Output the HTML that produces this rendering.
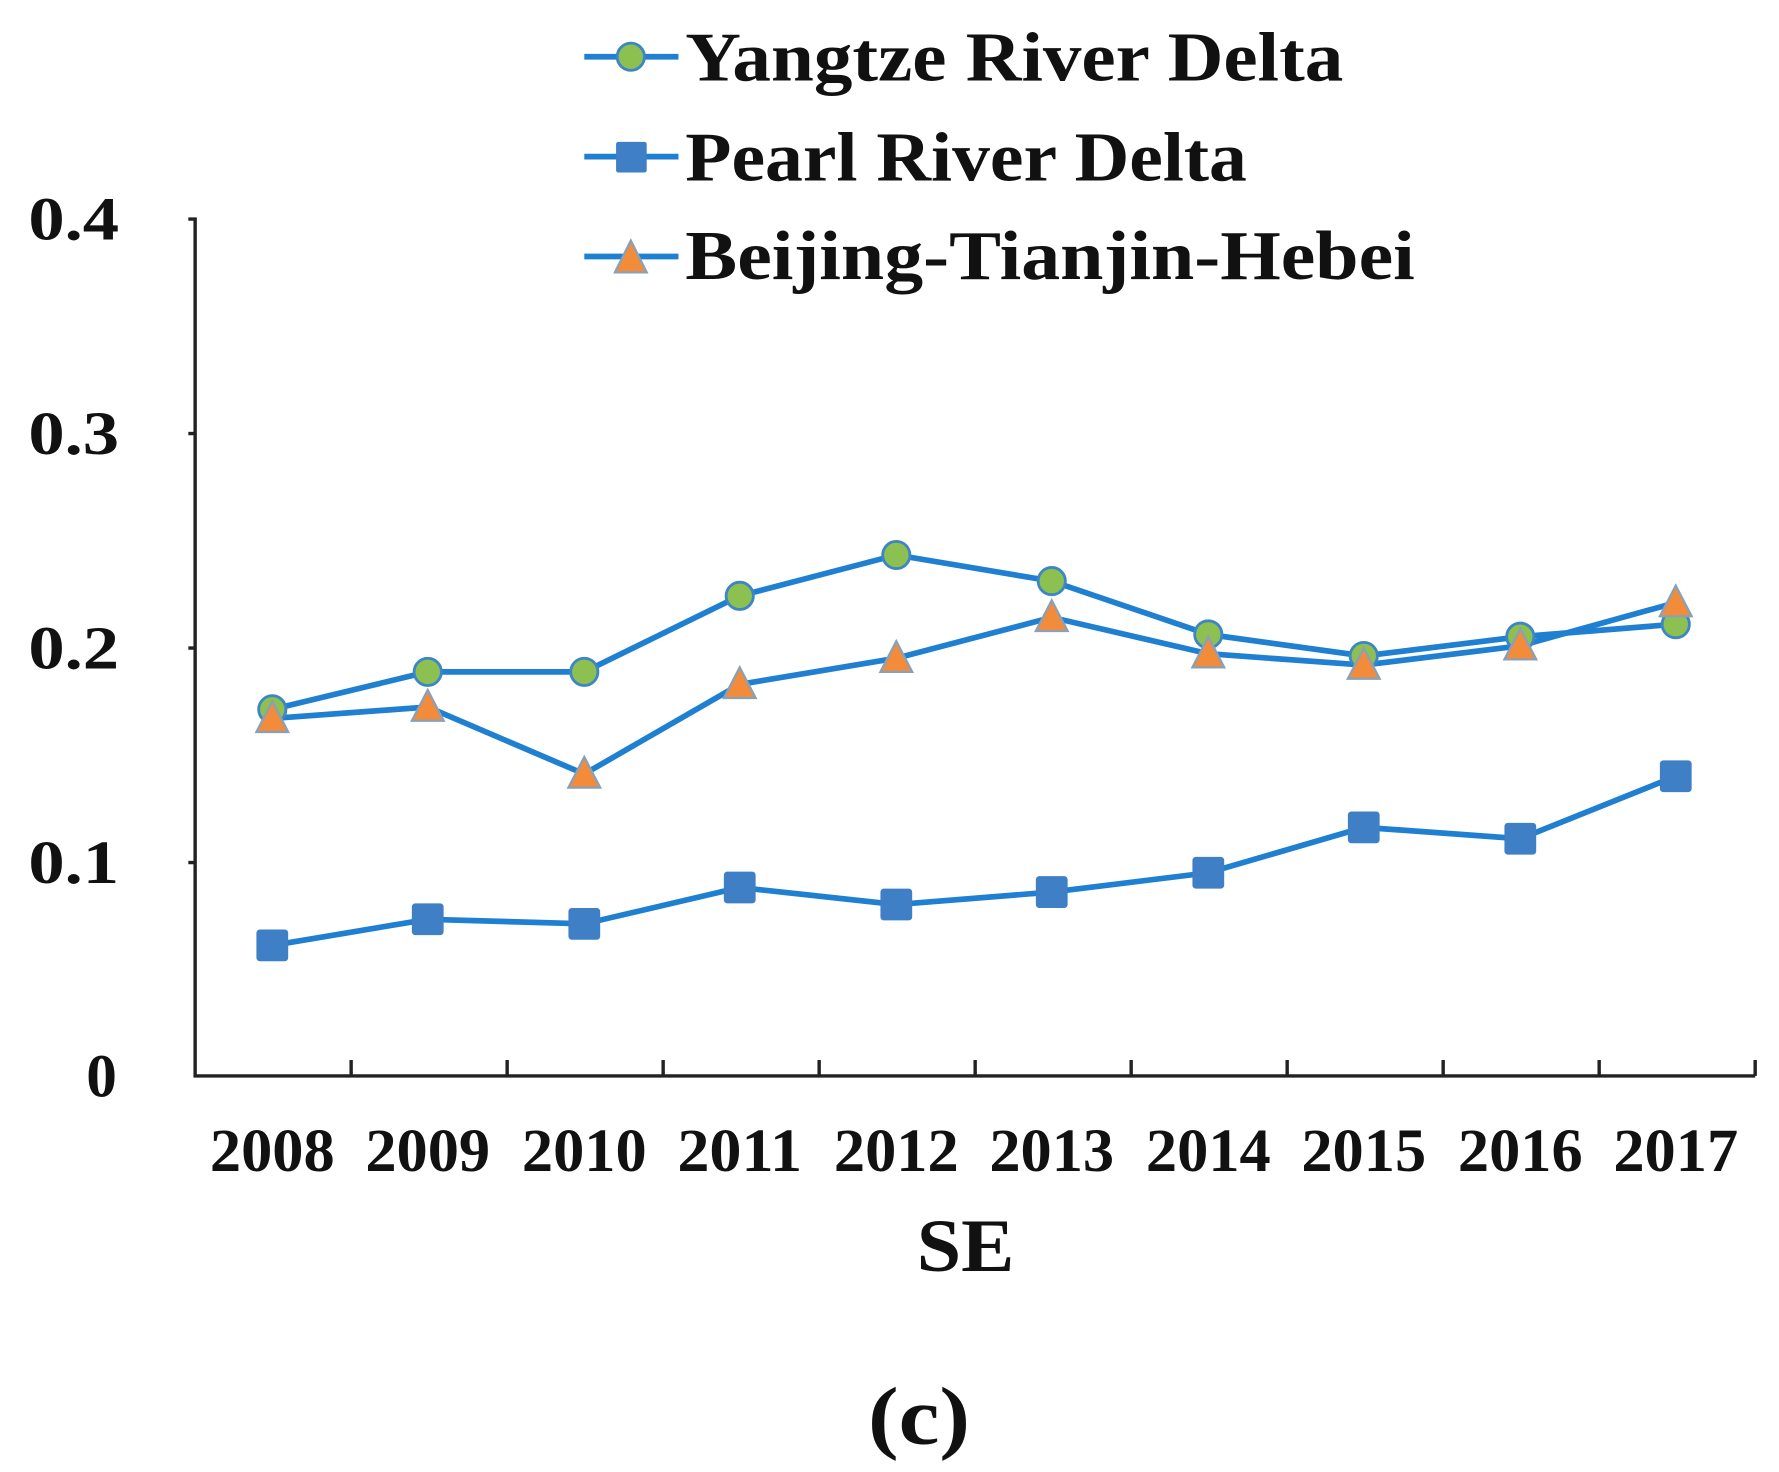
<!DOCTYPE html>
<html><head><meta charset="utf-8"><style>
html,body{margin:0;padding:0;background:#fff;}
svg{display:block;}
text{font-family:"Liberation Serif",serif;font-weight:bold;fill:#111;}
</style></head><body>
<svg width="1779" height="1472" viewBox="0 0 1568 1297" preserveAspectRatio="none" xmlns="http://www.w3.org/2000/svg">
<rect width="1568" height="1297" fill="#fff"/>
<path d="M166 193 H172 V948 H1547" fill="none" stroke="#222" stroke-width="3"/>
<g stroke="#222" stroke-width="3">
<line x1="166" y1="382" x2="172" y2="382"/><line x1="166" y1="571" x2="172" y2="571"/><line x1="166" y1="760" x2="172" y2="760"/>
<line x1="309.5" y1="934" x2="309.5" y2="948"/><line x1="447" y1="934" x2="447" y2="948"/><line x1="584.5" y1="934" x2="584.5" y2="948"/><line x1="722" y1="934" x2="722" y2="948"/><line x1="859.5" y1="934" x2="859.5" y2="948"/><line x1="997" y1="934" x2="997" y2="948"/><line x1="1134.5" y1="934" x2="1134.5" y2="948"/><line x1="1272" y1="934" x2="1272" y2="948"/><line x1="1409.5" y1="934" x2="1409.5" y2="948"/><line x1="1547" y1="934" x2="1547" y2="948"/>
</g>
<g font-size="54" lengthAdjust="spacingAndGlyphs">
<text x="25" y="211" textLength="80" lengthAdjust="spacingAndGlyphs">0.4</text><text x="25" y="400" textLength="80" lengthAdjust="spacingAndGlyphs">0.3</text><text x="25" y="589" textLength="80" lengthAdjust="spacingAndGlyphs">0.2</text><text x="25" y="778" textLength="80" lengthAdjust="spacingAndGlyphs">0.1</text><text x="76" y="966">0</text>
</g>
<g font-size="54">
<text x="185" y="1032" textLength="110" lengthAdjust="spacingAndGlyphs">2008</text><text x="322" y="1032" textLength="110" lengthAdjust="spacingAndGlyphs">2009</text><text x="460" y="1032" textLength="110" lengthAdjust="spacingAndGlyphs">2010</text><text x="597" y="1032" textLength="110" lengthAdjust="spacingAndGlyphs">2011</text><text x="735" y="1032" textLength="110" lengthAdjust="spacingAndGlyphs">2012</text><text x="872" y="1032" textLength="110" lengthAdjust="spacingAndGlyphs">2013</text><text x="1010" y="1032" textLength="110" lengthAdjust="spacingAndGlyphs">2014</text><text x="1147" y="1032" textLength="110" lengthAdjust="spacingAndGlyphs">2015</text><text x="1285" y="1032" textLength="110" lengthAdjust="spacingAndGlyphs">2016</text><text x="1422" y="1032" textLength="110" lengthAdjust="spacingAndGlyphs">2017</text>
</g>
<text x="808" y="1120" font-size="66" textLength="86" lengthAdjust="spacingAndGlyphs">SE</text>
<text x="765" y="1272" font-size="72" textLength="90" lengthAdjust="spacingAndGlyphs">(c)</text>
<g fill="none" stroke="#1f7fd0" stroke-width="5">
<polyline points="240,625 377,592 515,592 652,525 790,489 927,512 1065,559 1202,578 1340,561 1477,550"/>
<polyline points="240,833 377,810 515,814 652,782 790,797 927,786 1065,769 1202,729 1340,739 1477,684"/>
<polyline points="240,633 377,623 515,682 652,603 790,580 927,544 1065,576 1202,586 1340,569 1477,531"/>
</g>
<g fill="#8cc152" stroke="#3d86c6" stroke-width="2.5">
<circle cx="240" cy="625" r="12"/><circle cx="377" cy="592" r="12"/><circle cx="515" cy="592" r="12"/><circle cx="652" cy="525" r="12"/><circle cx="790" cy="489" r="12"/><circle cx="927" cy="512" r="12"/><circle cx="1065" cy="559" r="12"/><circle cx="1202" cy="578" r="12"/><circle cx="1340" cy="561" r="12"/><circle cx="1477" cy="550" r="12"/>
</g>
<g fill="#3f7fc6" stroke="#3f7fc6" stroke-width="2">
<rect x="227" y="820" width="26" height="26" rx="2"/><rect x="364" y="797" width="26" height="26" rx="2"/><rect x="502" y="801" width="26" height="26" rx="2"/><rect x="639" y="769" width="26" height="26" rx="2"/><rect x="777" y="784" width="26" height="26" rx="2"/><rect x="914" y="773" width="26" height="26" rx="2"/><rect x="1052" y="756" width="26" height="26" rx="2"/><rect x="1189" y="716" width="26" height="26" rx="2"/><rect x="1327" y="726" width="26" height="26" rx="2"/><rect x="1464" y="671" width="26" height="26" rx="2"/>
</g>
<g fill="#f28c3a" stroke="#8aa0b8" stroke-width="2">
<polygon points="240,618 254,645 226,645"/><polygon points="377,608 391,635 363,635"/><polygon points="515,667 529,694 501,694"/><polygon points="652,588 666,615 638,615"/><polygon points="790,565 804,592 776,592"/><polygon points="927,529 941,556 913,556"/><polygon points="1065,561 1079,588 1051,588"/><polygon points="1202,571 1216,598 1188,598"/><polygon points="1340,554 1354,581 1326,581"/><polygon points="1477,516 1491,543 1463,543"/>
</g>
<g stroke="#1f7fd0" stroke-width="5">
<line x1="515" y1="50" x2="598" y2="50"/><line x1="515" y1="138" x2="598" y2="138"/><line x1="515" y1="226" x2="598" y2="226"/>
</g>
<circle cx="556" cy="50" r="12" fill="#8cc152" stroke="#3d86c6" stroke-width="2.5"/>
<rect x="543" y="125" width="27" height="27" rx="2" fill="#3f7fc6"/>
<polygon points="556,212 570,240 542,240" fill="#f28c3a" stroke="#8aa0b8" stroke-width="2"/>
<g font-size="62">
<text x="604" y="71" textLength="580" lengthAdjust="spacingAndGlyphs">Yangtze River Delta</text>
<text x="604" y="159" textLength="495" lengthAdjust="spacingAndGlyphs">Pearl River Delta</text>
<text x="604" y="246" textLength="643" lengthAdjust="spacingAndGlyphs">Beijing-Tianjin-Hebei</text>
</g>
</svg>
</body></html>
